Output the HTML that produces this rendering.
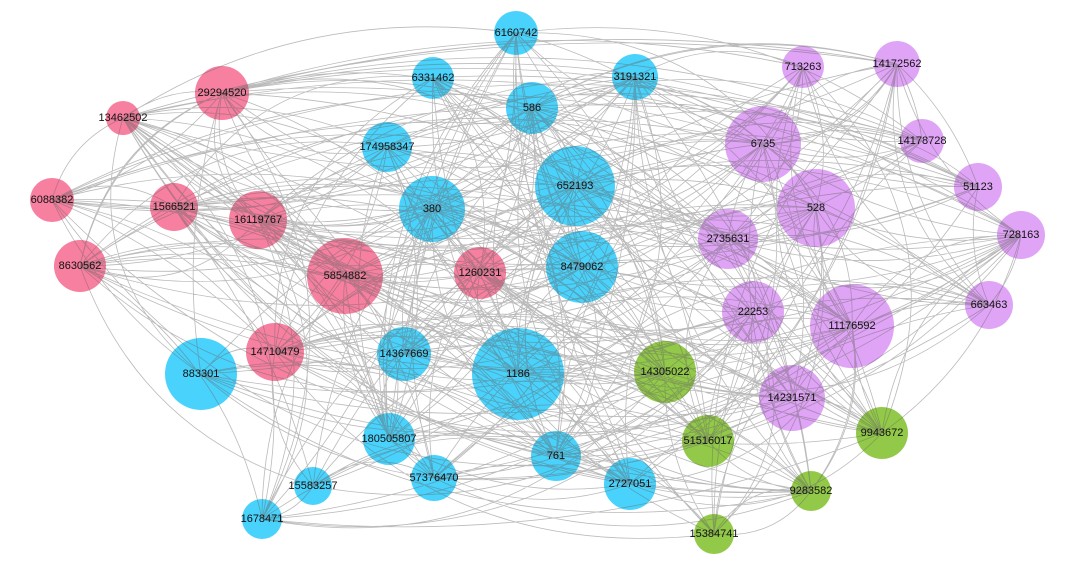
<!DOCTYPE html>
<html><head><meta charset="utf-8"><style>
html,body{margin:0;padding:0;background:#fff;width:1070px;height:570px;overflow:hidden}
svg{display:block}
text{font-family:"Liberation Sans",sans-serif;font-size:11px;fill:#111;text-anchor:middle;dominant-baseline:central}
</style></head><body>
<svg id="s" width="1070" height="570" xmlns="http://www.w3.org/2000/svg"><g id="n"></g><g id="e"></g><g id="t"></g></svg>
<script>
var R='#f7789a',B='#3fd0fb',P='#de9ff6',G='#8dc63f';
var N=[
["29294520",222,93,27,R],["13462502",123,118,17,R],["6088382",52,200,22,R],["1566521",174,207,24,R],
["16119767",258,220,29,R],["8630562",80,266,26,R],["5854882",345,276,38,R],["1260231",480,273,26,R],["14710479",275,352,29,R],
["6160742",516,33,22,B],["6331462",433,78,21,B],["3191321",635,77,23,B],["586",532,108,26,B],["174958347",387,147,25,B],
["652193",575,186,40,B],["380",432,209,33,B],["8479062",582,267,36,B],["14367669",404,354,27,B],["1186",518,374,46,B],
["883301",201,374,36,B],["180505807",389,439,26,B],["761",556,456,25,B],["2727051",630,484,26,B],["57376470",434,478,23,B],
["15583257",313,486,19,B],["1678471",262,519,20,B],
["713263",803,67,21,P],["14172562",897,64,23,P],["6735",763,144,38,P],["14178728",922,141,22,P],["528",816,208,39,P],
["51123",978,187,24,P],["2735631",728,239,30,P],["728163",1021,235,24,P],["22253",753,312,31,P],["11176592",852,326,42,P],
["663463",989,305,24,P],["14231571",792,398,33,P],
["14305022",665,372,31,G],["51516017",708,441,26,G],["9943672",882,433,26,G],["9283582",811,491,20,G],["15384741",714,534,20,G]];
var ns='http://www.w3.org/2000/svg',gn=document.getElementById('n'),ge=document.getElementById('e'),gt=document.getElementById('t');
var seed=12345;function rnd(){seed=(seed*1103515245+12345)%2147483648;return seed/2147483648;}
N.forEach(function(d){var c=document.createElementNS(ns,'circle');c.setAttribute('cx',d[1]);c.setAttribute('cy',d[2]);c.setAttribute('r',d[3]);c.setAttribute('fill',d[4]);c.setAttribute('fill-opacity','0.95');gn.appendChild(c);
var t=document.createElementNS(ns,'text');t.setAttribute('x',d[1]);t.setAttribute('y',d[2]);t.textContent=d[0];gt.appendChild(t);});
var p='';
for(var k=0;k<520;k++){var i=Math.floor(rnd()*N.length),j=Math.floor(rnd()*N.length);if(i==j)continue;
var a=N[i],b=N[j];if(rnd()<0.4){ if(a[3]<30&&rnd()<0.5)continue;}
var mx=(a[1]+b[1])/2,my=(a[2]+b[2])/2,dx=b[1]-a[1],dy=b[2]-a[2],f=(rnd()<0.5?-1:1)*(0.1+rnd()*0.25);
var cx=mx-dy*f,cy=my+dx*f;cx=Math.max(5,Math.min(1065,cx));cy=Math.max(3,Math.min(567,cy));
p+='M'+a[1]+' '+a[2]+'Q'+cx.toFixed(1)+' '+cy.toFixed(1)+' '+b[1]+' '+b[2];}
var pa=document.createElementNS(ns,'path');pa.setAttribute('d',p);pa.setAttribute('fill','none');pa.setAttribute('stroke','#666');pa.setAttribute('stroke-opacity','0.45');pa.setAttribute('stroke-width','0.8');ge.appendChild(pa);
</script>
</body></html>
